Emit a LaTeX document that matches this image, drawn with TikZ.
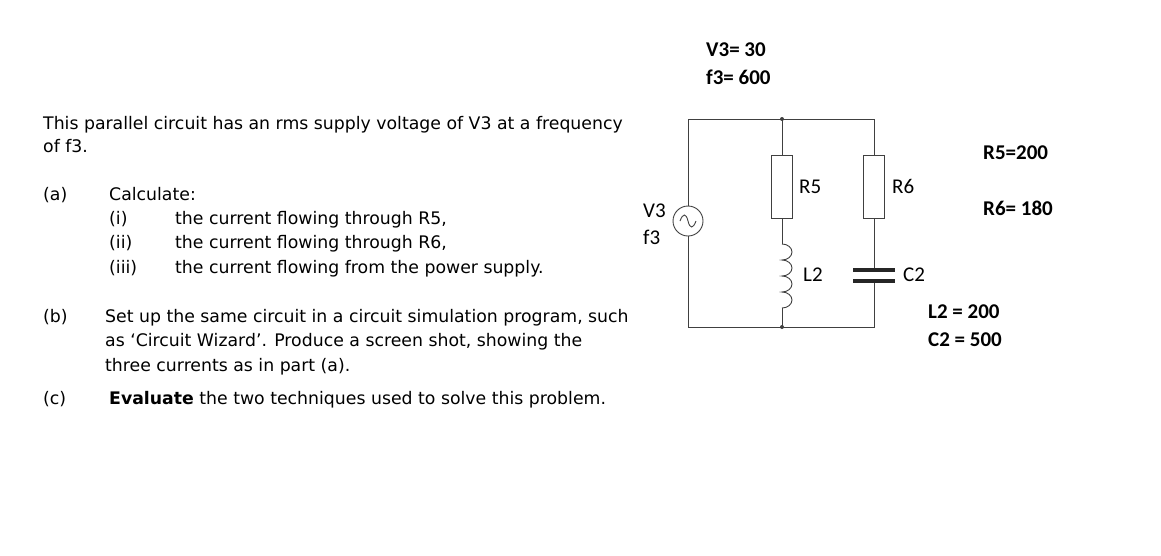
\documentclass[tikz,border=0pt]{standalone}
\usepackage{fontspec}
\setmainfont{DejaVu Sans}
\newfontfamily\carl{Carlito}
\begin{document}
\begin{tikzpicture}[x=1pt,y=-1pt,
  txt/.style={anchor=base west,inner sep=0pt,font=\fontsize{17.3}{20}\selectfont},
  lbl/.style={anchor=base west,inner sep=0pt,font=\carl\fontsize{21}{24}\selectfont},
  val/.style={anchor=base west,inner sep=0pt,font=\carl\bfseries\fontsize{21}{24}\selectfont},
  wire/.style={draw=black!75,line width=0.9pt},
  res/.style={draw=black!75,line width=0.9pt,fill=white,minimum width=21pt,minimum height=63pt,inner sep=0pt}]
\useasboundingbox (0,0) rectangle (1161,555);
% text
\node[txt] (t1) at (43,129) {This parallel circuit has an rms supply voltage of V3 at a frequency};
\node[txt] (t2) at (43,152) {of f3.};
\node[txt] (a) at (43,200) {(a)};
\node[txt] (a0) at (109,200) {Calculate:};
\node[txt] (ai) at (109,224) {(i)};
\node[txt] (ait) at (175,224) {the current flowing through R5,};
\node[txt] (aii) at (109,248) {(ii)};
\node[txt] (aiit) at (175,248) {the current flowing through R6,};
\node[txt] (aiii) at (109,273) {(iii)};
\node[txt] (aiiit) at (175,273) {the current flowing from the power supply.};
\node[txt] (b) at (43,322) {(b)};
\node[txt] (b1) at (105,322) {Set up the same circuit in a circuit simulation program, such};
\node[txt] (b2) at (105,346) {as `Circuit Wizard'. Produce a screen shot, showing the};
\node[txt] (b3) at (105,371) {three currents as in part (a).};
\node[txt] (c) at (43,404) {(c)};
\node[txt] (c1) at (109,404) {\textbf{Evaluate} the two techniques used to solve this problem.};
% values
\node[val] (v3) at (706,56) {V3= 30};
\node[val] (f3) at (706,84) {f3= 600};
\node[val] (r5v) at (983,159) {R5=200};
\node[val] (r6v) at (983,215) {R6= 180};
\node[val] (l2v) at (928,318) {L2 = 200};
\node[val] (c2v) at (928,346) {C2 = 500};
% circuit
\coordinate (tl) at (688,119); \coordinate (tm) at (782,119); \coordinate (tr) at (874,119);
\coordinate (bl) at (688,327); \coordinate (bm) at (782,327); \coordinate (br) at (874,327);
\node[wire,circle,minimum size=30pt,inner sep=0pt] (src) at (688,221) {};
\draw[line width=0.9pt,black!75] (680,221) .. controls (683,213) and (686,213) .. (688,221) .. controls (690,229) and (693,229) .. (696,221);
\node[res] (r5) at (782,187) {};
\node[res] (r6) at (874,187) {};
\coordinate (l2a) at (782,244); \coordinate (l2b) at (782,308);
\coordinate (c2a) at (874,270); \coordinate (c2b) at (874,281);
\draw[wire] (src.north) -- (tl) -- (tr) -- (r6.north);
\draw[wire] (src.south) -- (bl) -- (br) -- (c2b);
\draw[wire] (tm) -- (r5.north);
\draw[wire] (r5.south) -- (l2a);
\draw[wire] (l2b) -- (bm);
\draw[wire] (r6.south) -- (c2a);
\draw[wire] (l2a) \foreach \i in {0,1,2,3} { arc[start angle=90,end angle=-90,x radius=10pt,y radius=8pt] };
\draw[black!85,line width=3.2pt] (853,270) -- (895,270) (853,281) -- (895,281);
\fill[black!75] (tm) circle (2pt) (bm) circle (2pt);
\node[lbl] (lv3) at (643,217) {V3};
\node[lbl] (lf3) at (643,244) {f3};
\node[lbl] (lr5) at (799,193) {R5};
\node[lbl] (lr6) at (892,193) {R6};
\node[lbl] (ll2) at (803,281) {L2};
\node[lbl] (lc2) at (903,281) {C2};
\end{tikzpicture}
\end{document}
